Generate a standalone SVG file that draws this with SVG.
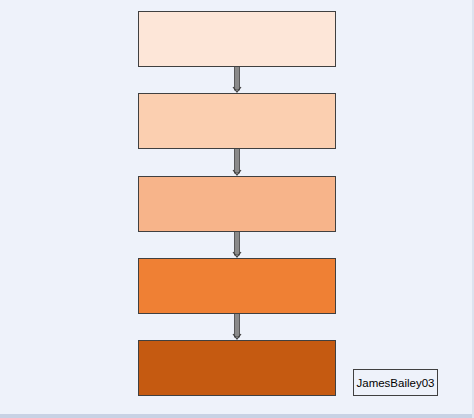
<svg xmlns="http://www.w3.org/2000/svg" width="474" height="418" viewBox="0 0 474 418">
<style>
.box{stroke:#404040;stroke-width:1}
.shaft{fill:#8a8a8a;stroke:#404040;stroke-width:0.8}
.head{fill:none;stroke:#404040;stroke-width:1.2}
.lbl{font-family:"Liberation Sans",Arial,sans-serif;font-size:11.5px;fill:#000}
</style>
<rect x="0" y="0" width="474" height="418" fill="#eef2fa"/>
<rect x="0" y="414" width="474" height="4" fill="#c8d2e4"/>
<rect x="472" y="0" width="2" height="418" fill="#dde3ef"/>
<g id="connectors">
<g><rect class="shaft" x="234.5" y="66" width="5" height="24"/><path class="head" d="M233 87 L237 92 L241 87"/></g>
<g><rect class="shaft" x="234.5" y="148" width="5" height="25"/><path class="head" d="M233 170 L237 175 L241 170"/></g>
<g><rect class="shaft" x="234.5" y="231" width="5" height="24"/><path class="head" d="M233 252 L237 257 L241 252"/></g>
<g><rect class="shaft" x="234.5" y="313" width="5" height="24"/><path class="head" d="M233 334 L237 339 L241 334"/></g>
</g>
<g id="n1"><rect class="box" x="138.5" y="11.5" width="197" height="55" fill="#fde6d8"/></g>
<g id="n2"><rect class="box" x="138.5" y="93.5" width="197" height="55" fill="#fbcfb0"/></g>
<g id="n3"><rect class="box" x="138.5" y="176.5" width="197" height="55" fill="#f7b48a"/></g>
<g id="n4"><rect class="box" x="138.5" y="258.5" width="197" height="55" fill="#ef8034"/></g>
<g id="n5"><rect class="box" x="138.5" y="340.5" width="197" height="55" fill="#c55a11"/></g>
<g id="label"><rect x="353.5" y="369.5" width="84" height="26" fill="#eef2fa" stroke="#404040" stroke-width="1"/><text class="lbl" x="395.5" y="387" text-anchor="middle">JamesBailey03</text></g>
</svg>
